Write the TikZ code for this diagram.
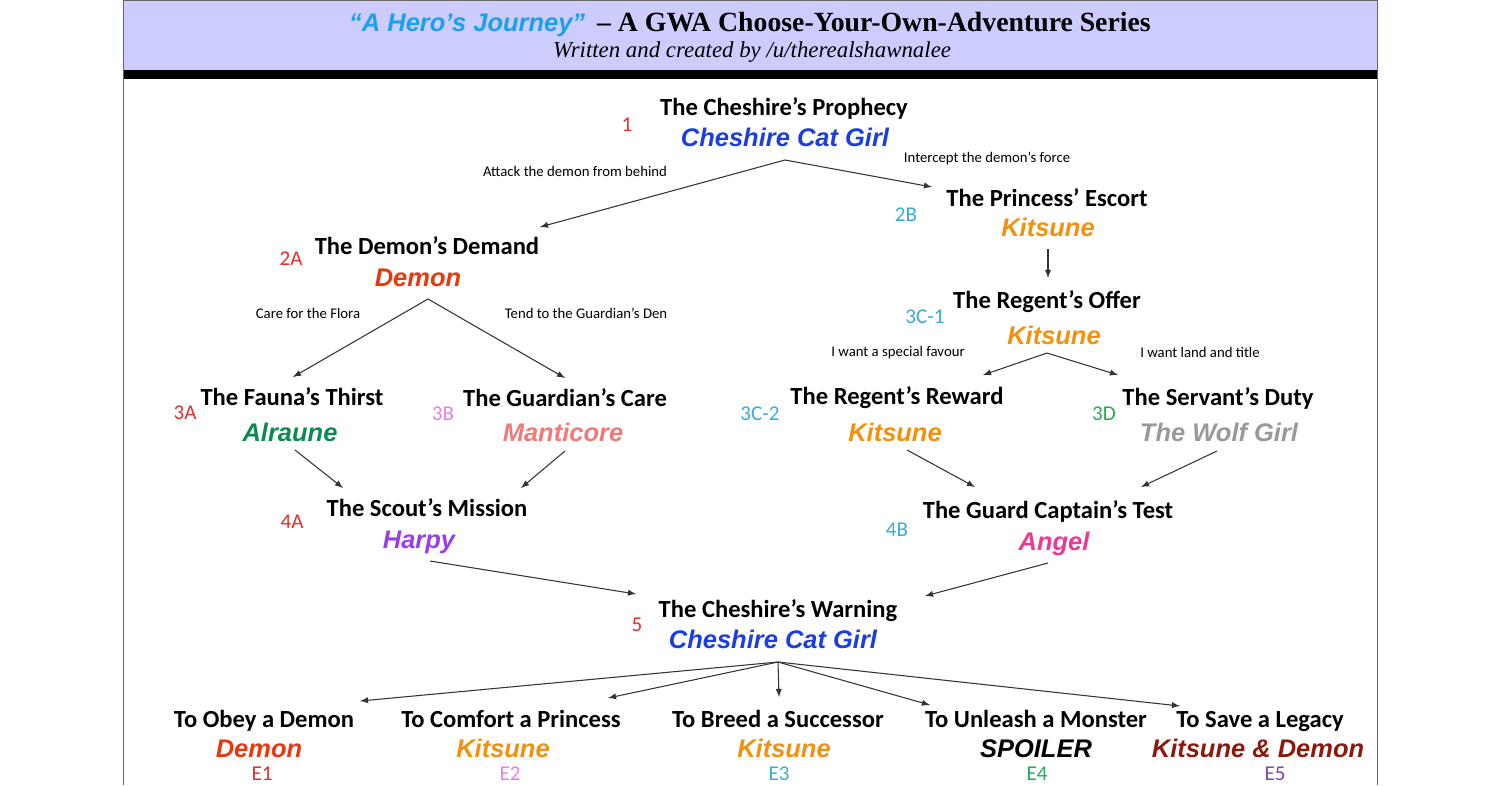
\documentclass[tikz,border=0pt]{standalone}
\usepackage{fontspec}
\setmainfont{Carlito}
\newfontfamily\artfont{Liberation Sans}
\newfontfamily\headfont{Liberation Serif}
\usetikzlibrary{positioning,calc}
\definecolor{lavender}{HTML}{CCCCFF}
\definecolor{heroblue}{HTML}{1AA0EE}
\definecolor{numred}{HTML}{E03030}
\definecolor{numblue}{HTML}{3AAADC}
\definecolor{numviolet}{HTML}{E87EE8}
\definecolor{numgreen}{HTML}{2AA85A}
\definecolor{numpurple}{HTML}{7D48A8}
\definecolor{catblue}{HTML}{1A3EE0}
\definecolor{demonred}{HTML}{E8380E}
\definecolor{kitsune}{HTML}{F0920F}
\definecolor{alraune}{HTML}{0C8A50}
\definecolor{manticore}{HTML}{F07A78}
\definecolor{wolfgray}{HTML}{999999}
\definecolor{harpy}{HTML}{9A3EE8}
\definecolor{angel}{HTML}{E83A96}
\definecolor{darkred}{HTML}{8B1A0C}
\tikzset{
  title/.style={font=\bfseries\fontsize{14}{16}\selectfont,anchor=base,inner sep=0pt},
  girl/.style={font=\artfont\bfseries\itshape\fontsize{14.5}{17}\selectfont,anchor=base,inner sep=0pt},
  num/.style={font=\fontsize{12}{14}\selectfont,anchor=base,inner sep=0pt},
  pick/.style={font=\fontsize{8.4}{10}\selectfont,anchor=base,inner sep=0pt},
  arr/.style={-latex,line width=0.6pt,draw=black!80}
}

\begin{document}
\begin{tikzpicture}[x=0.02cm,y=-0.02cm]
        \useasboundingbox (0,0) rectangle (1500,785);
        \fill[white] (0,0) rectangle (1500,785);

        % header band
        \fill[lavender] (123,0) rectangle (1377,70);
        \fill[black] (123,70) rectangle (1377,79);
        \draw[black!60] (123,0) -- (1377,0);
        \draw[black!60] (123,0) -- (123,785);
        \draw[black!60] (1377,0) -- (1377,785);
        \node[anchor=base,inner sep=0pt] at (750,31) (head)
          {{\color{heroblue}\artfont\bfseries\itshape\fontsize{14.5}{16}\selectfont “A Hero’s Journey”}\ \ \ {\headfont\bfseries\fontsize{15.8}{18}\selectfont – A GWA Choose-Your-Own-Adventure Series}};
        \node[anchor=base,inner sep=0pt,font=\headfont\itshape\fontsize{13}{15}\selectfont] at (752,57) (sub)
          {Written and created by /u/therealshawnalee};

        % chapter 1
        \node[title] at (784,115) (t1) {The Cheshire’s Prophecy};
        \node[girl,catblue] at (785,146) (c1) {Cheshire Cat Girl};
        \node[num,numred] at (627,131) (n1) {1};

        % chapter 2
        \node[title] at (427,254) (t2a) {The Demon’s Demand};
        \node[girl,demonred] at (418,286) (c2a) {Demon};
        \node[num,numred] at (291,265) (n2a) {2A};

        \node[title] at (1047,206) (t2b) {The Princess’ Escort};
        \node[girl,kitsune] at (1048,236) (c2b) {Kitsune};
        \node[num,numblue] at (906,221) (n2b) {2B};

        % chapter 3
        \node[title] at (1047,308) (t3c1) {The Regent’s Offer};
        \node[girl,kitsune] at (1054,344) (c3c1) {Kitsune};
        \node[num,numblue] at (925,323) (n3c1) {3C-1};

        \node[title] at (292,405) (t3a) {The Fauna’s Thirst};
        \node[girl,alraune] at (290,441) (c3a) {Alraune};
        \node[num,numred] at (185,419) (n3a) {3A};

        \node[title] at (565,406) (t3b) {The Guardian’s Care};
        \node[girl,manticore] at (563,441) (c3b) {Manticore};
        \node[num,numviolet] at (443,420) (n3b) {3B};

        \node[title] at (897,404) (t3c2) {The Regent’s Reward};
        \node[girl,kitsune] at (895,441) (c3c2) {Kitsune};
        \node[num,numblue] at (760,420) (n3c2) {3C-2};

        \node[title] at (1218,405) (t3d) {The Servant’s Duty};
        \node[girl,wolfgray] at (1219,441) (c3d) {The Wolf Girl};
        \node[num,numgreen] at (1104,420) (n3d) {3D};

        % chapter 4
        \node[title] at (427,516) (t4a) {The Scout’s Mission};
        \node[girl,harpy] at (419,548) (c4a) {Harpy};
        \node[num,numred] at (292,528) (n4a) {4A};

        \node[title] at (1048,518) (t4b) {The Guard Captain’s Test};
        \node[girl,angel] at (1054,550) (c4b) {Angel};
        \node[num,numblue] at (897,536) (n4b) {4B};

        % chapter 5
        \node[title] at (778,617) (t5) {The Cheshire’s Warning};
        \node[girl,catblue] at (773,648) (c5) {Cheshire Cat Girl};
        \node[num,numred] at (637,631) (n5) {5};

        % endings
        \node[title] at (264,727) (e1) {To Obey a Demon};
        \node[girl,demonred] at (259,757) (g1) {Demon};
        \node[num,numred] at (262,780) (m1) {E1};

        \node[title] at (511,727) (e2) {To Comfort a Princess};
        \node[girl,kitsune] at (503,757) (g2) {Kitsune};
        \node[num,numviolet] at (510,780) (m2) {E2};

        \node[title] at (778,727) (e3) {To Breed a Successor};
        \node[girl,kitsune] at (784,757) (g3) {Kitsune};
        \node[num,numblue] at (779,780) (m3) {E3};

        \node[title] at (1036,727) (e4) {To Unleash a Monster};
        \node[girl,black] at (1036,757) (g4) {SPOILER};
        \node[num,numgreen] at (1037,780) (m4) {E4};

        \node[title] at (1260,727) (e5) {To Save a Legacy};
        \node[girl,darkred] at (1258,757) (g5) {Kitsune \& Demon};
        \node[num,numpurple] at (1275,780) (m5) {E5};

        % choices
        \node[pick] at (575,176) (p1a) {Attack the demon from behind};
        \node[pick] at (987,162) (p1b) {Intercept the demon’s force};
        \node[pick] at (308,318) (p2a) {Care for the Flora};
        \node[pick] at (586,318) (p2b) {Tend to the Guardian’s Den};
        \node[pick] at (898,356) (p3a) {I want a special favour};
        \node[pick] at (1200,357) (p3b) {I want land and title};

        % arrows
        \draw[arr] ($(t1.base)+(1,45)$) -- ($(t2a.base)+(113,-27)$);
        \draw[arr] ($(t1.base)+(1,45)$) -- ($(t2b.base)+(-115,-19)$);
        \draw[arr] ($(c2b.base)+(0,13)$) -- ($(t3c1.base)+(1,-30)$);
        \draw[arr] ($(t2a.base)+(1,45)$) -- ($(t3a.base)+(1,-28)$);
        \draw[arr] ($(t2a.base)+(1,45)$) -- ($(t3b.base)+(0,-28)$);
        \draw[arr] ($(t3c1.base)+(0,45)$) -- ($(t3c2.base)+(86,-29)$);
        \draw[arr] ($(t3c1.base)+(0,45)$) -- ($(t3d.base)+(-100,-30)$);
        \draw[arr] ($(c3a.base)+(5,9)$) -- ($(t4a.base)+(-84,-28)$);
        \draw[arr] ($(c3b.base)+(2,10)$) -- ($(t4a.base)+(94,-28)$);
        \draw[arr] ($(c3c2.base)+(12,9)$) -- ($(t4b.base)+(-73,-31)$);
        \draw[arr] ($(c3d.base)+(-2,10)$) -- ($(t4b.base)+(93,-31)$);
        \draw[arr] ($(c4a.base)+(11,13)$) -- ($(t5.base)+(-142,-23)$);
        \draw[arr] ($(c4b.base)+(-6,13)$) -- ($(t5.base)+(147,-21)$);
        \draw[arr] ($(t5.base)+(0,45)$) -- ($(e1.base)+(96,-26)$);
        \draw[arr] ($(t5.base)+(0,45)$) -- ($(e2.base)+(97,-29)$);
        \draw[arr] ($(t5.base)+(0,45)$) -- ($(e3.base)+(1,-30)$);
        \draw[arr] ($(t5.base)+(0,45)$) -- ($(e4.base)+(-106,-22)$);
        \draw[arr] ($(t5.base)+(0,45)$) -- ($(e5.base)+(-80,-21)$);
      \end{tikzpicture}
\end{document}
